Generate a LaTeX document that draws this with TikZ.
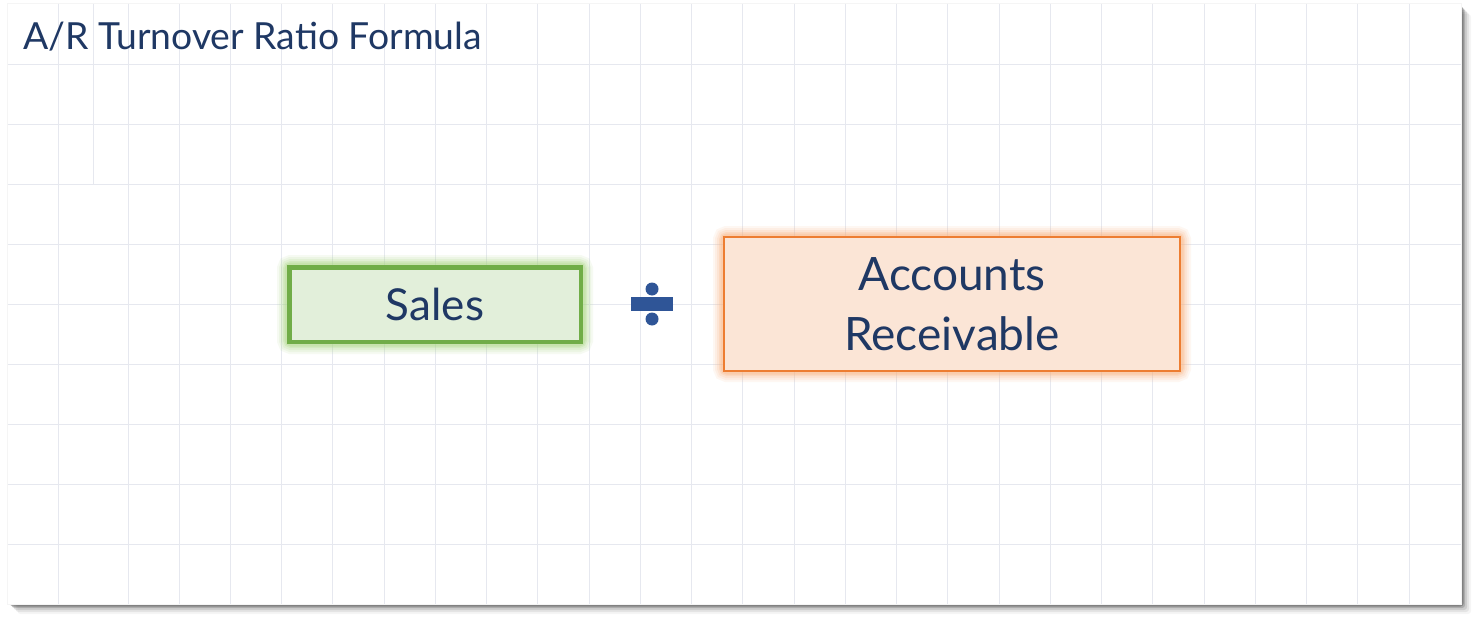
\documentclass[tikz,border=0pt]{standalone}
\usepackage{fontspec}
\setmainfont{Lato}
\pgfdeclarelayer{back}
\pgfdeclarelayer{bg}
\pgfsetlayers{back,bg,main}
\definecolor{ink}{RGB}{31,56,100}
\definecolor{gridc}{RGB}{230,232,239}
\definecolor{salesline}{RGB}{112,173,71}
\definecolor{salesfill}{RGB}{226,239,218}
\definecolor{salesglow}{RGB}{169,214,130}
\definecolor{arline}{RGB}{237,125,49}
\definecolor{arfill}{RGB}{251,229,214}
\definecolor{arglow}{RGB}{248,180,130}
\definecolor{divc}{RGB}{47,85,151}
\tikzset{
  gridline/.style={draw=gridc, line width=1pt},
  termbox/.style={rectangle, inner sep=0pt, align=center, text=ink, font=\fontsize{46}{60}\selectfont},
  title/.style={text=ink, inner sep=0pt, anchor=base west, font=\fontsize{37.3}{46}\selectfont},
}
\begin{document}
\begin{tikzpicture}[x=1pt,y=-1pt]
\useasboundingbox (0,0) rectangle (1475,618);
\begin{pgfonlayer}{back}
% card shadow
\foreach \s/\o in {10/0.04,8/0.07,6/0.1,4/0.16,2.5/0.22,1/0.3}
  \fill[black, opacity=\o, rounded corners=3pt] (7.5+\s,4+\s) rectangle (1461+\s,604+\s);
\fill[black!4] (6.5,3) rectangle (1462,605);
\fill[white] (7.5,4) rectangle (1461,604);
% grid
\foreach \k in {0,...,25}
  \draw[gridline] ({128+51.24*\k},4) -- ({128+51.24*\k},604);
\draw[gridline] (58,4) -- (58,604);
\draw[gridline] (93,4) -- (93,184.3);
\foreach \k in {0,...,8}
  \draw[gridline] (7.5,{64.3+60*\k}) -- (1461,{64.3+60*\k});
\end{pgfonlayer}
% title
\node[title] (ttl) at (23,50) {A/R Turnover Ratio Formula};
% boxes
\node[termbox, font=\fontsize{44}{60}\selectfont, draw=salesline, fill=salesfill, line width=4.5pt, minimum width=291.5pt, minimum height=74.5pt] (sales) at (435,304.5) {Sales};
\node[termbox, draw=arline, fill=arfill, line width=2pt, minimum width=456pt, minimum height=134pt] (ar) at (952,304) {Accounts\\Receivable};
\begin{pgfonlayer}{bg}
\foreach \w/\o in {20/0.1,16/0.12,12/0.16,8/0.22,5/0.3}{
  \draw[salesglow, line width=\w pt, opacity=\o, rounded corners=4pt] (sales.north west) rectangle (sales.south east);
  \draw[arglow, line width=\w pt, opacity=\o, rounded corners=4pt] (ar.north west) rectangle (ar.south east);
}
\end{pgfonlayer}
% divide sign
\coordinate (div) at (652,304);
\fill[divc] ([xshift=-21pt,yshift=7pt]div) rectangle ([xshift=21pt,yshift=-7pt]div);
\fill[divc] ([yshift=15pt]div) circle (6.5pt);
\fill[divc] ([yshift=-15pt]div) circle (6.5pt);
\end{tikzpicture}
\end{document}
